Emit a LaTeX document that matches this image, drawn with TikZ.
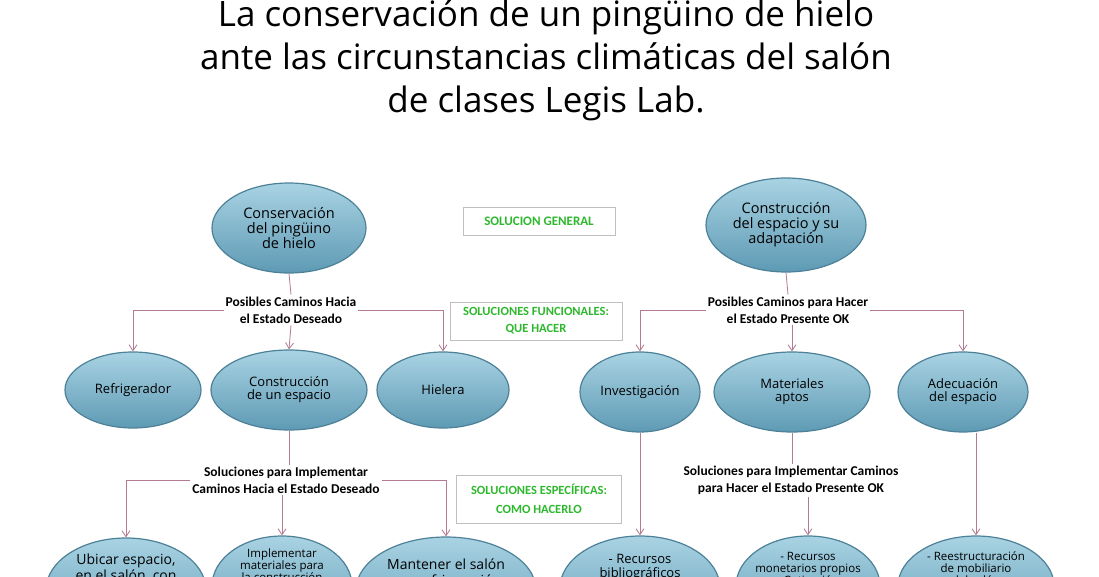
\documentclass[tikz,border=0pt]{standalone}
\usepackage{fontspec}
\setmainfont{Open Sans}
\newfontfamily\calfont{Carlito}
\usetikzlibrary{shapes.geometric,arrows.meta}
\definecolor{ebd}{HTML}{4D8197}
\definecolor{etop}{HTML}{A9D3E3}
\definecolor{ebot}{HTML}{5E9AB4}
\definecolor{con}{HTML}{B27A93}
\definecolor{grn}{HTML}{2DB82D}
\tikzset{
 ell/.style={ellipse,draw=ebd,line width=1.2pt,top color=etop,bottom color=ebot,inner sep=0pt,align=center,font=\fontsize{13}{13}\selectfont},
 btxt/.style={align=center,inner sep=0pt},
 lab/.style={font=\calfont\bfseries\fontsize{13.5}{17}\selectfont,align=center,fill=white,inner sep=2pt},
 gbox/.style={draw=black!25,fill=white,font=\calfont\bfseries\fontsize{13}{18}\selectfont,text=grn,align=center},
 ln/.style={con,line width=0.8pt},
 ar/.style={con,line width=0.8pt,-{Straight Barb[length=6pt,width=8pt]}}
}
\begin{document}
\begin{tikzpicture}[x=1pt,y=-1pt]
\useasboundingbox (0,0) rectangle (1099,577);
\clip (0,0) rectangle (1099,577);
\node[font=\fontsize{35}{43}\selectfont,align=center] (title) at (546,60) {La conservación de un pingüino de hielo\\ante las circunstancias climáticas del salón\\de clases Legis Lab.};
% top
\node[ell,minimum width=154,minimum height=90,font=\fontsize{14.5}{15}\selectfont] (A) at (289,228) {Conservación\\del pingüino\\de hielo};
\node[ell,minimum width=160,minimum height=94,font=\fontsize{14.5}{15}\selectfont] (B) at (786,225) {Construcción\\del espacio y su\\adaptación};
\node[gbox,minimum width=152,minimum height=28] (g1) at (539,221) {SOLUCION GENERAL};
\node[gbox,minimum width=172,minimum height=38,font=\calfont\bfseries\fontsize{12.5}{17}\selectfont] (g2) at (536,321) {SOLUCIONES FUNCIONALES:\\QUE HACER};
\node[gbox,minimum width=165,minimum height=48,font=\calfont\bfseries\fontsize{12.5}{19}\selectfont] (g3) at (539,499) {SOLUCIONES ESPECÍFICAS:\\COMO HACERLO};
% middle row
\node[ell,minimum width=136,minimum height=76] (r1) at (133,390) {Refrigerador};
\node[ell,minimum width=156,minimum height=80] (r2) at (289,390) {Construcción\\de un espacio};
\node[ell,minimum width=132,minimum height=76] (r3) at (443,390) {Hielera};
\node[ell,minimum width=120,minimum height=80] (r4) at (640,392) {Investigación};
\node[ell,minimum width=156,minimum height=80] (r5) at (792,392) {Materiales\\aptos};
\node[ell,minimum width=130,minimum height=80] (r6) at (963,392) {Adecuación\\del espacio};
% bottom row
\node[ell,minimum width=160,minimum height=104] (b1) at (126,590) {};
\node[ell,minimum width=140,minimum height=100] (b2) at (282,586) {};
\node[ell,minimum width=180,minimum height=106] (b3) at (446,590) {};
\node[ell,minimum width=160,minimum height=104] (b4) at (640,588) {};
\node[ell,minimum width=144,minimum height=100] (b5) at (808,586) {};
\node[ell,minimum width=156,minimum height=100] (b6) at (976,586) {};
\node[btxt,anchor=north,font=\fontsize{14}{16}\selectfont] (t1) at (126,554) {Ubicar espacio,\\en el salón, con};
\node[btxt,anchor=north,font=\fontsize{11.5}{12}\selectfont] (t2) at (282,549) {Implementar\\materiales para\\la construcción};
\node[btxt,anchor=north,font=\fontsize{14}{16}\selectfont] (t3) at (446,559) {Mantener el salón\\con refrigeración};
\node[btxt,anchor=north,font=\fontsize{13}{14}\selectfont] (t4) at (640,554) {- Recursos\\bibliográficos};
\node[btxt,anchor=north,font=\fontsize{11.5}{12}\selectfont] (t5) at (808,552) {- Recursos\\monetarios propios\\- Cotización};
\node[btxt,anchor=north,font=\fontsize{11.5}{12}\selectfont] (t6) at (976,551) {- Reestructuración\\de mobiliario\\del salón};
% labels
\node[lab] (L1) at (291,310) {Posibles Caminos Hacia\\el Estado Deseado};
\node[lab] (L2) at (788,310) {Posibles Caminos para Hacer\\el Estado Presente OK};
\node[lab] (L3) at (286,480) {Soluciones para Implementar\\Caminos Hacia el Estado Deseado};
\node[lab] (L4) at (791,480) {Soluciones para Implementar Caminos\\para Hacer el Estado Presente OK};
% connectors left top
\draw[ln] (A.south) -- (L1.north);
\draw[ar] (L1.west) -- (r1.north |- L1.west) -- (r1.north);
\draw[ar] (L1.south) -- (r2.north);
\draw[ar] (L1.east) -- (r3.north |- L1.east) -- (r3.north);
% right top
\draw[ln] (B.south) -- (L2.north);
\draw[ar] (L2.west) -- (r4.north |- L2.west) -- (r4.north);
\draw[ar] (L2.south -| r5.north) -- (r5.north);
\draw[ar] (L2.east) -- (r6.north |- L2.east) -- (r6.north);
% lower left
\draw[ln] (r2.south) -- (L3.north -| r2.south);
\draw[ar] (L3.west) -- (b1.north |- L3.west) -- (b1.north);
\draw[ar] (L3.south -| b2.north) -- (b2.north);
\draw[ar] (L3.east) -- (b3.north |- L3.east) -- (b3.north);
% lower right
\draw[ar] (r4.south) -- (b4.north);
\draw[ln] (r5.south) -- (L4.north -| r5.south);
\draw[ar] (L4.south -| b5.north) -- (b5.north);
\draw[ar] (r6.south -| b6.north) -- (b6.north);
\end{tikzpicture}
\end{document}
